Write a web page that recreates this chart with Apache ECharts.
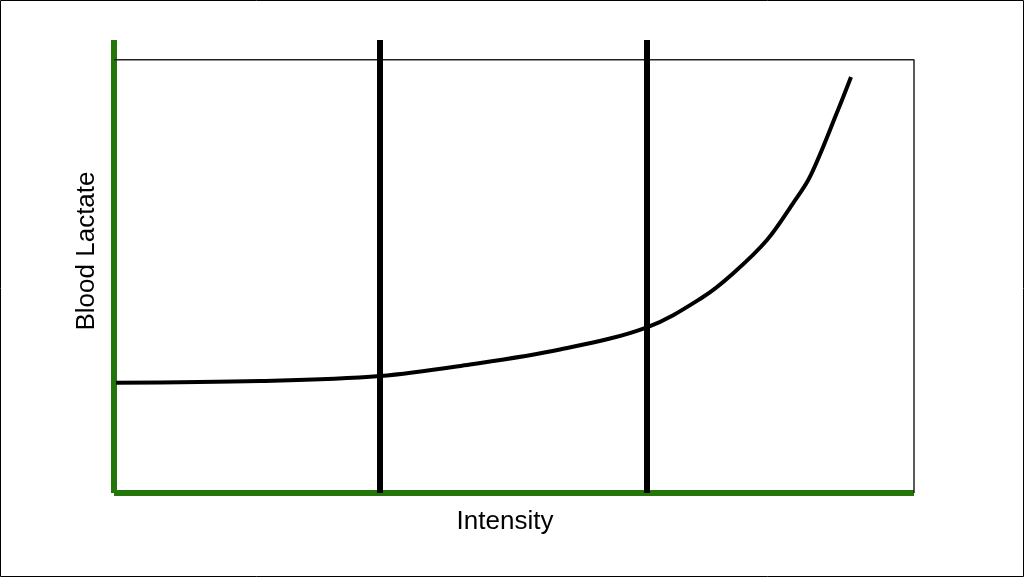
<!DOCTYPE html>
<html>
<head>
<meta charset="utf-8">
<script src="https://cdn.jsdelivr.net/npm/echarts@6/dist/echarts.min.js"></script>
<style>
html,body{margin:0;padding:0;background:#fff;}
#chart{width:1024px;height:577px;}
</style>
</head>
<body>
<div id="chart"></div>
<script>
// Intensity (0-100) vs blood lactate (0-100)
var intensity = [0.25, 18.25, 33.25, 44.5, 55.75, 66.625, 73.625, 77.375, 81.625, 84.875, 87.0, 90.5, 92.125];
var lactate   = [25.46, 25.85, 27.0, 29.66, 33.12, 38.24, 45.23, 50.66, 58.39, 66.86, 73.0, 88.4, 96.01];
var thresholds = [33.25, 66.6];
var frameX = [0, 100, 100];
var frameY = [100, 100, 0];
var xTitle = 'Intensity';
var yTitle = 'Blood Lactate';

var curve = intensity.map(function (x, i) { return [x, lactate[i]]; });
var frame = frameX.map(function (x, i) { return [x, frameY[i]]; });

var chart = echarts.init(document.getElementById('chart'), null, {renderer: 'canvas'});
var green = '#24760A';
chart.setOption({
  backgroundColor: '#ffffff',
  animation: false,
  grid: {left: 114, right: 110, top: 40, bottom: 84},
  xAxis: {
    type: 'value', min: 0, max: 100,
    axisLine: {show: true, onZero: false, lineStyle: {color: green, width: 6, cap: 'butt'}},
    axisTick: {show: false}, axisLabel: {show: false}, splitLine: {show: false}
  },
  yAxis: {
    type: 'value', min: 0, max: 104.55,
    axisLine: {show: true, onZero: false, lineStyle: {color: green, width: 6, cap: 'butt'}},
    axisTick: {show: false}, axisLabel: {show: false}, splitLine: {show: false}
  },
  series: [
    {
      type: 'line', data: frame, symbol: 'none', silent: true, z: 1,
      lineStyle: {color: '#222222', width: 1.5}
    },
    {
      type: 'line', data: curve, symbol: 'none', smooth: 0.35, z: 3,
      lineStyle: {color: '#000000', width: 4, cap: 'butt'},
      markLine: {
        symbol: 'none', silent: true, label: {show: false},
        lineStyle: {color: '#000000', width: 6, type: 'solid', cap: 'butt'},
        data: thresholds.map(function (t) { return {xAxis: t}; })
      }
    }
  ],
  graphic: [
    {type: 'rect', shape: {x: 0.5, y: 0.5, width: 1023, height: 576},
     style: {fill: null, stroke: '#000', lineWidth: 1}, silent: true},
    {type: 'text', x: 505, y: 522,
     style: {text: xTitle, font: '26px "Liberation Sans", Arial, sans-serif', fill: '#000', textAlign: 'center', textVerticalAlign: 'middle'}},
    {type: 'text', x: 87, y: 251, rotation: Math.PI / 2,
     style: {text: yTitle, font: '26px "Liberation Sans", Arial, sans-serif', fill: '#000', textAlign: 'center', textVerticalAlign: 'middle'}}
  ]
});
</script>
</body>
</html>
